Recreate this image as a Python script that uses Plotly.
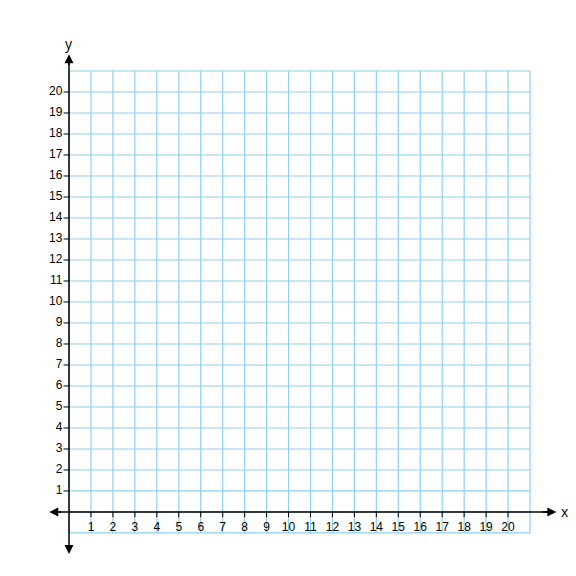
import plotly.graph_objects as go

ticks = list(range(1, 21))
grid_x = list(range(0, 22))   # vertical grid lines at x = 0..21
grid_y = list(range(-1, 22))  # horizontal grid lines at y = -1..21
tick_labels = [str(t) for t in ticks]

gc = "#8fd0ee"
fig = go.Figure()
gx, gy = [], []
for x in grid_x:
    gx += [x, x, None]; gy += [-1, 21, None]
for y in grid_y:
    gx += [0, 21, None]; gy += [y, y, None]
fig.add_trace(go.Scatter(x=gx, y=gy, mode="lines", line=dict(color=gc, width=1.2), hoverinfo="skip"))

# axes
fig.add_trace(go.Scatter(x=[-0.8, 21.9, None, 0, 0], y=[0, 0, None, -1.85, 21.4], mode="lines",
                         line=dict(color="black", width=1.5), hoverinfo="skip"))
# tick marks
tx, ty = [], []
for t in ticks:
    tx += [-0.25, 0, None, t, t, None]; ty += [t, t, None, 0, -0.25, None]
fig.add_trace(go.Scatter(x=tx, y=ty, mode="lines", line=dict(color="black", width=1), hoverinfo="skip"))

fig.add_trace(go.Scatter(x=[-0.3] * 20, y=ticks, text=tick_labels, mode="text", textposition="middle left",
                         textfont=dict(size=12, color="black", family="Liberation Sans")))
fig.add_trace(go.Scatter(x=ticks, y=[-0.75] * 20, text=tick_labels, mode="text", textposition="middle center",
                         textfont=dict(size=12, color="black", family="Liberation Sans")))

arrow = dict(showarrow=True, arrowhead=2, arrowsize=1.2, arrowwidth=1.5, arrowcolor="black",
             text="", xref="x", yref="y", axref="x", ayref="y")
fig.add_annotation(x=22.2, y=0, ax=21.5, ay=0, **arrow)
fig.add_annotation(x=-0.9, y=0, ax=-0.3, ay=0, **arrow)
fig.add_annotation(x=0, y=21.8, ax=0, ay=21.2, **arrow)
fig.add_annotation(x=0, y=-2.0, ax=0, ay=-1.5, **arrow)
fig.add_annotation(x=22.6, y=0, text="x", showarrow=False, font=dict(size=14, color="black"))
fig.add_annotation(x=0, y=22.3, text="y", showarrow=False, font=dict(size=14, color="black"))

fig.update_layout(width=576, height=576, margin=dict(l=0, r=0, t=0, b=0), showlegend=False,
                  plot_bgcolor="white", paper_bgcolor="white",
                  xaxis=dict(range=[-2.78, 23.46], visible=False, fixedrange=True),
                  yaxis=dict(range=[-3.43, 24.0], visible=False, fixedrange=True))
fig.write_html("out.html")
